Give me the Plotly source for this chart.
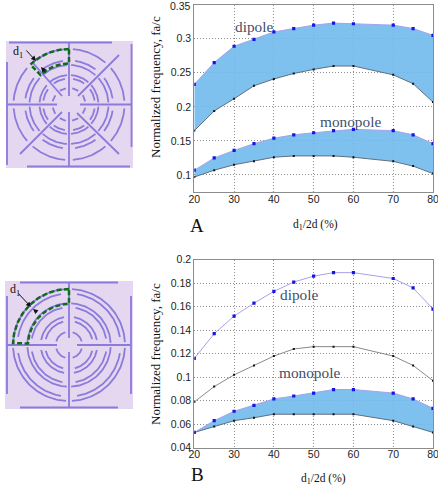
import numpy as np
import plotly.graph_objects as go

W, H = 450, 486  # a bit wider than the window so the last x tick label is kept

# chart data
x_vals = [20, 25, 30, 35, 40, 45, 50, 55, 60, 70, 75, 80]
a_dipole_up = [.233, .265, .289, .299, .31, .315, .32, .323, .322, .32, .315, .305]
a_dipole_lo = [.165, .194, .212, .231, .241, .249, .255, .26, .26, .247, .234, .207]
a_mono_up = [.107, .125, .136, .146, .154, .159, .162, .165, .167, .165, .159, .146]
a_mono_lo = [.097, .107, .115, .12, .126, .128, .128, .128, .126, .12, .113, .102]
b_dipole_up = [.116, .137, .152, .163, .173, .181, .186, .189, .189, .184, .176, .158]
b_dipole_lo = [.079, .092, .102, .11, .118, .124, .126, .126, .126, .118, .11, .097]
b_mono_up = [.053, .063, .071, .076, .0815, .084, .0865, .0895, .0895, .0865, .0815, .0735]
b_mono_lo = [.053, .058, .063, .0655, .0685, .0685, .0685, .0685, .0685, .063, .058, .053]

x_ticks = [20, 30, 40, 50, 60, 70, 80]
a_ticks = [0.1, 0.15, 0.2, 0.25, 0.3]
a_labels = ["0.1", "0.15", "0.2", "0.25", "0.3"]
b_ticks = [0.04, 0.06, 0.08, 0.1, 0.12, 0.14, 0.16, 0.18, 0.2]
b_labels = ["0.04", "0.06", "0.08", "0.1", "0.12", "0.14", "0.16", "0.18", "0.2"]

# schematic A rings: radius (px), inset of each octant arc (deg)
a_rings = [(55.5, 4), (44, 8), (39.5, 3), (29.5, 4), (26, 9), (16.5, 11)]
# schematic B rings: radius (px), inset of each quadrant arc (deg)
b_rings = [(56, 3), (51.5, 9), (41.7, 3), (37.7, 10), (28.3, 10), (24, 14), (13.3, 16)]
# straight pieces of the schematics (x0, y0, x1, y1) in px
a_bars = [
    (9, 42.5, 112, 42.5), (27, 166.5, 130, 166.5), (7, 62, 7, 165), (131.5, 44, 131.5, 147),
    (69, 42, 69, 96), (69, 112, 69, 167), (7, 104.5, 57, 104.5), (80, 104.5, 132, 104.5),
    (119, 55, 78, 96), (20, 154, 62, 112), (119, 154, 77, 113), (33, 63, 62, 96),
]
b_bars = [
    (20, 282.5, 118, 282.5), (20, 407.5, 118, 407.5), (7, 296, 7, 394), (131, 296, 131, 394),
    (69, 283, 69, 338), (69, 352, 69, 408), (7, 345, 57, 345), (77, 345, 131, 345),
]

PURPLE = "#8a7bdc"
GREEN = "#0f6b1e"


def arc_xy(cx, cy, r, a0, a1):
    t = np.radians(np.linspace(a0, a1, 40))
    return cx + r * np.cos(t), cy - r * np.sin(t)


fig = go.Figure()


def add_band(xa, ya, up, lo):
    fig.add_trace(go.Scatter(x=x_vals, y=lo, mode="lines+markers", xaxis=xa, yaxis=ya,
                             line=dict(color="#5f6f80", width=1),
                             marker=dict(color="#111111", size=2, symbol="square")))
    fig.add_trace(go.Scatter(x=x_vals, y=up, mode="lines+markers", xaxis=xa, yaxis=ya,
                             fill="tonexty", fillcolor="rgba(112,186,236,0.9)",
                             line=dict(color="#a9a0ea", width=1),
                             marker=dict(color="#1616e0", size=3.2, symbol="square")))


def add_line(xa, ya, vals, color, mcolor, size):
    fig.add_trace(go.Scatter(x=x_vals, y=vals, mode="lines+markers", xaxis=xa, yaxis=ya,
                             line=dict(color=color, width=1),
                             marker=dict(color=mcolor, size=size, symbol="square")))


add_band("x", "y", a_dipole_up, a_dipole_lo)
add_band("x", "y", a_mono_up, a_mono_lo)
add_line("x2", "y2", b_dipole_up, "#a9a0ea", "#1616e0", 3.2)
add_line("x2", "y2", b_dipole_lo, "#8a8a8a", "#111111", 2)
add_band("x2", "y2", b_mono_up, b_mono_lo)


# schematics on a pixel overlay
def add_px_line(xs, ys, color=PURPLE, width=1.8, dash=None):
    fig.add_trace(go.Scatter(x=xs, y=ys, mode="lines", xaxis="x3", yaxis="y3",
                             line=dict(color=color, width=width, dash=dash)))


for r, inset in a_rings:
    for k in range(8):
        xs, ys = arc_xy(69, 104.5, r, k * 45 + inset, (k + 1) * 45 - inset)
        add_px_line(xs, ys)
for x0, y0, x1, y1 in a_bars:
    add_px_line([x0, x1], [y0, y1])

for r, inset in b_rings:
    for k in range(4):
        xs, ys = arc_xy(69, 345, r, k * 90 + inset, (k + 1) * 90 - inset)
        add_px_line(xs, ys)
for x0, y0, x1, y1 in b_bars:
    add_px_line([x0, x1], [y0, y1])

# dashed green outlines
xo, yo = arc_xy(69, 104.5, 55.5, 90, 134)
xi, yi = arc_xy(69, 104.5, 41, 134, 90)
add_px_line(np.r_[xo, xi, xo[0]], np.r_[yo, yi, yo[0]], GREEN, 2.5, "5px,2.5px")
xo, yo = arc_xy(69, 345, 56, 90, 178)
xi, yi = arc_xy(69, 345, 41, 178, 90)
add_px_line(np.r_[xo, xi, xo[0]], np.r_[yo, yi, yo[0]], GREEN, 2.5, "5px,2.5px")

shapes = [
    dict(type="rect", xref="x3", yref="y3", x0=6, y0=41, x1=133, y1=168,
         fillcolor="#e6d7f0", line_width=0, layer="below"),
    dict(type="rect", xref="x3", yref="y3", x0=5, y0=281, x1=133, y1=409,
         fillcolor="#e6d7f0", line_width=0, layer="below"),
]


def note(x, y, text, size, color="#111111", family="Liberation Serif", angle=0):
    return dict(x=x, y=y, xref="x3", yref="y3", text=text, showarrow=False, textangle=angle,
                font=dict(family=family, size=size, color=color), xanchor="center", yanchor="middle")


def pointer(x, y, ax, ay):
    return dict(x=x, y=y, ax=ax, ay=ay, xref="x3", yref="y3", axref="x3", ayref="y3", text="",
                showarrow=True, arrowhead=2, arrowsize=1, arrowwidth=1, arrowcolor="#111111")


annotations = [
    note(17.5, 52, "d<sub>1</sub>", 12),
    note(14.5, 290, "d<sub>1</sub>", 12),
    note(254, 26, "dipole", 15.3, "#3f4f6b"),
    note(350, 121.5, "monopole", 15.3, "#3f4f6b"),
    note(299, 294, "dipole", 15.3, "#3f4f6b"),
    note(309, 372, "monopole", 15.3, "#3f4f6b"),
    note(197, 225, "A", 19),
    note(197, 474.5, "B", 19),
    note(315, 225, "d<sub>1</sub>/2d (%)", 11.5),
    note(323, 479, "d<sub>1</sub>/2d (%)", 11.5),
    note(155, 87, "Normalized frequency, fa/c", 13, angle=-90),
    note(155, 354, "Normalized frequency, fa/c", 13, angle=-90),
    # top tick of panel A sits too close to the page edge for plotly to keep it
    note(180.5, 6, "0.35", 10.5, "#222222", "Liberation Sans"),
    pointer(36, 61, 25, 49), pointer(41, 67, 47, 74),
    pointer(31, 307, 17, 292), pointer(33, 309, 38, 313),
]


def px_domain(top, bottom):
    return [1 - bottom / H, 1 - top / H]


GRID = dict(showgrid=True, gridcolor="#8f8f8f", griddash="1px,2px", gridwidth=1, zeroline=False,
            showline=True, linecolor="#8c8c8c", linewidth=1, mirror=True, ticks="",
            tickfont=dict(family="Liberation Sans", size=10.5, color="#222222"))
x_dom = [194.3 / W, 433 / W]

fig.update_layout(
    width=W, height=H, margin=dict(l=0, r=0, t=0, b=0, autoexpand=False), showlegend=False,
    paper_bgcolor="white", plot_bgcolor="rgba(0,0,0,0)", shapes=shapes, annotations=annotations,
    xaxis=dict(domain=x_dom, range=[20, 80], tickvals=x_ticks, anchor="y", ticklabelstandoff=-3, **GRID),
    yaxis=dict(domain=px_domain(4.7, 192), range=[0.075, 0.35], tickvals=a_ticks, ticktext=a_labels,
               anchor="x", **GRID),
    xaxis2=dict(domain=x_dom, range=[20, 80], tickvals=x_ticks, anchor="y2", ticklabelstandoff=-3, **GRID),
    yaxis2=dict(domain=px_domain(259.7, 447.7), range=[0.04, 0.2], tickvals=b_ticks, ticktext=b_labels,
                anchor="x2", **GRID),
    xaxis3=dict(domain=[0, 1], range=[0, W], visible=False, anchor="y3"),
    yaxis3=dict(domain=[0, 1], range=[H, 0], visible=False, anchor="x3"),
)

fig.write_html("out.html", config={"displayModeBar": False},
               post_script="document.body.style.margin='0';document.body.style.overflow='hidden';")
